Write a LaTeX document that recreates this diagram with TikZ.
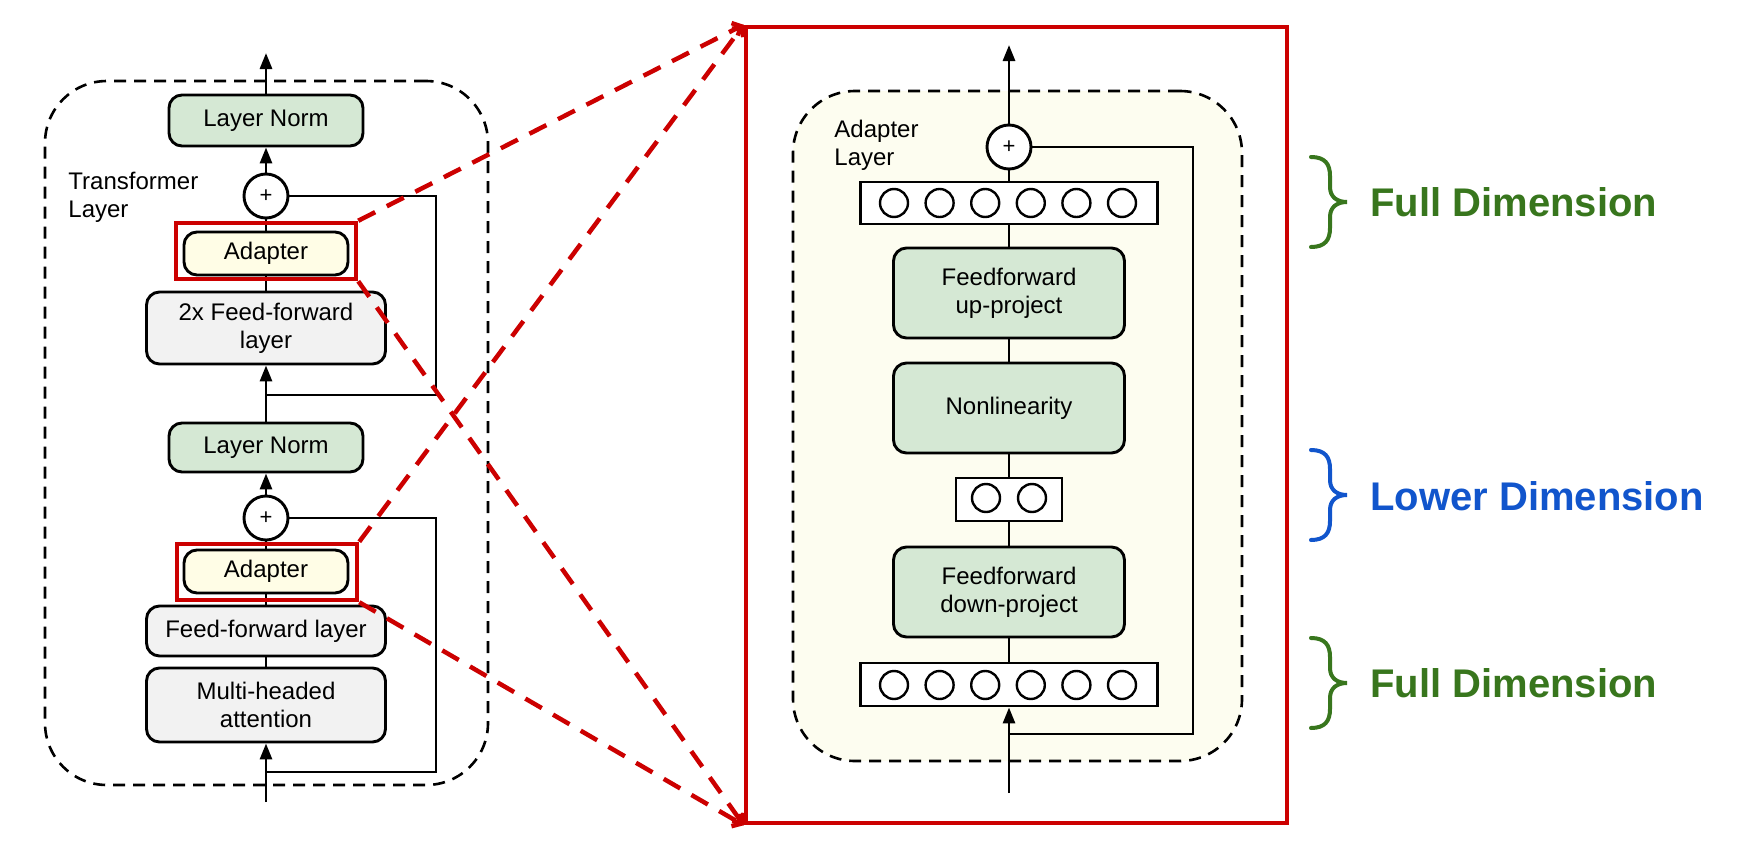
\documentclass[tikz,border=0pt]{standalone}
\usepackage{fontspec}
\setmainfont{Liberation Sans}
\usetikzlibrary{arrows.meta}
\definecolor{boxgreen}{HTML}{D5E8D4}
\definecolor{boxgrey}{HTML}{F2F2F2}
\definecolor{adyellow}{HTML}{FFFDE6}
\definecolor{bgcream}{HTML}{FDFDF0}
\definecolor{zred}{HTML}{CC0000}
\definecolor{dimgreen}{HTML}{38761D}
\definecolor{dimblue}{HTML}{1155CC}
\newcommand\dimbrace[3]{%
  \draw[line width=4pt, line cap=round, #3]
    (#1,#2-45) .. controls (#1+14,#2-45) and (#1+19,#2-38) .. (#1+19,#2-26)
    -- (#1+19,#2-15) .. controls (#1+19,#2-5) and (#1+26,#2) .. (#1+36,#2)
    .. controls (#1+26,#2) and (#1+19,#2+5) .. (#1+19,#2+15)
    -- (#1+19,#2+26) .. controls (#1+19,#2+38) and (#1+14,#2+45) .. (#1,#2+45);}
\begin{document}
\begin{tikzpicture}[x=1pt,y=-1pt,
  line width=2.9pt,
  every node/.style={font=\fontsize{24}{28}\selectfont, inner sep=0pt},
  blk/.style={draw, rounded corners=13pt, align=center, line width=2.9pt},
  greenbox/.style={blk, fill=boxgreen},
  greybox/.style={blk, fill=boxgrey},
  adbox/.style={blk, fill=adyellow},
  plusnode/.style={draw, circle, fill=white, minimum size=44pt, font=\fontsize{22}{22}\selectfont},
  neuron/.style={draw, circle, minimum size=28pt, line width=2.4pt},
  neurbar/.style={draw, fill=white, line width=2.9pt},
  region/.style={draw, dash pattern=on 12pt off 8pt, rounded corners=62pt, line width=2.6pt},
  redframe/.style={draw=zred, line width=4.5pt},
  zoomline/.style={draw=zred, line width=4.5pt, dash pattern=on 19pt off 13pt, -{Straight Barb[length=7pt,width=14pt]}},
  arr/.style={-{Triangle[length=16pt,width=12pt]}},
  dimlabel/.style={font=\fontsize{40}{40}\selectfont\bfseries, anchor=base west},
]
\useasboundingbox (0,0) rectangle (1742,862);
\fill[white] (0,0) rectangle (1742,862);

% ---------------- left: transformer layer ----------------
\node[region, minimum width=443pt, minimum height=704pt] (trreg) at (266.5,433) {};
\node[anchor=north west, align=left] (trlab) at (67,171) {Transformer\\Layer};

\node[greenbox, minimum width=194pt, minimum height=51pt] (ln1) at (266,120.5) {Layer Norm};
\node[plusnode] (plus1) at (266,196) {+};
\node[adbox, minimum width=164pt, minimum height=43pt] (ad1) at (266,253.5) {Adapter};
\node[greybox, minimum width=239pt, minimum height=72pt] (ff2) at (266,328) {2x Feed-forward\\layer};
\node[greenbox, minimum width=194pt, minimum height=49pt] (ln2) at (266,447.5) {Layer Norm};
\node[plusnode] (plus2) at (266,518) {+};
\node[adbox, minimum width=164pt, minimum height=43pt] (ad2) at (266,571.5) {Adapter};
\node[greybox, minimum width=239pt, minimum height=50pt] (ff1) at (266,631) {Feed-forward layer};
\node[greybox, minimum width=239pt, minimum height=74pt] (mha) at (266,705) {Multi-headed\\attention};

\coordinate (outL) at (266,53);
\coordinate (inL) at (266,802);
\coordinate (sk1a) at (436,395);
\coordinate (sk1b) at (266,395);
\coordinate (sk2a) at (436,772);
\coordinate (sk2b) at (266,772);

\draw[arr] (ln1.north) -- (outL);
\draw[arr] (plus1.north) -- (ln1.south);
\draw (plus1.south) -- (ad1.north);
\draw (ad1.south) -- (ff2.north);
\draw[arr] (ln2.north) -- (ff2.south);
\draw[arr] (plus2.north) -- (ln2.south);
\draw (plus2.south) -- (ad2.north);
\draw (ad2.south) -- (ff1.north);
\draw (ff1.south) -- (mha.north);
\draw[arr] (inL) -- (mha.south);
\draw (plus1.east) -| (sk1a) -- (sk1b);
\draw (plus2.east) -| (sk2a) -- (sk2b);

\node[redframe, minimum width=180pt, minimum height=56pt] (r1) at (266,251) {};
\node[redframe, minimum width=180pt, minimum height=56pt] (r2) at (267,572) {};

% ---------------- right: adapter layer ----------------
\node[region, fill=bgcream, minimum width=449pt, minimum height=670pt] (adreg) at (1017.5,426) {};
\node[anchor=north west, align=left] (adlab) at (833,119) {Adapter\\Layer};

\node[plusnode] (plusR) at (1009,147) {+};
\node[neurbar, minimum width=297pt, minimum height=42pt] (nTop) at (1009,203) {};
\foreach \i/\xx in {1/894,2/939.6,3/985.2,4/1030.8,5/1076.4,6/1122}
  \node[neuron] (nt\i) at (\xx,203) {};
\node[greenbox, minimum width=231pt, minimum height=90pt] (ffup) at (1009,293) {Feedforward\\up-project};
\node[greenbox, minimum width=231pt, minimum height=90pt] (nonlin) at (1009,408) {Nonlinearity};
\node[neurbar, minimum width=106pt, minimum height=43pt] (nSm) at (1009,499.5) {};
\node[neuron] (ns1) at (986,498) {};
\node[neuron] (ns2) at (1032,498) {};
\node[greenbox, minimum width=231pt, minimum height=90pt] (ffdown) at (1009,592) {Feedforward\\down-project};
\node[neurbar, minimum width=297pt, minimum height=43pt] (nBot) at (1009,684.5) {};
\foreach \i/\xx in {1/894,2/939.6,3/985.2,4/1030.8,5/1076.4,6/1122}
  \node[neuron] (nb\i) at (\xx,685) {};

\coordinate (outR) at (1009,45);
\coordinate (inR) at (1009,793);
\coordinate (skRa) at (1193,734);
\coordinate (skRb) at (1009,734);

\draw[arr] (plusR.north) -- (outR);
\draw (plusR.south) -- (nTop.north);
\draw (nTop.south) -- (ffup.north);
\draw (ffup.south) -- (nonlin.north);
\draw (nonlin.south) -- (nSm.north);
\draw (nSm.south) -- (ffdown.north);
\draw (ffdown.south) -- (nBot.north);
\draw[arr] (inR) -- (nBot.south);
\draw (plusR.east) -| (skRa) -- (skRb);

\node[redframe, minimum width=541pt, minimum height=796pt] (zoomR) at (1016.5,425) {};

% ---------------- zoom connectors ----------------
\draw[zoomline] (r1.north east) -- (zoomR.north west);
\draw[zoomline] (r1.south east) -- (zoomR.south west);
\draw[zoomline] (r2.north east) -- (zoomR.north west);
\draw[zoomline] (r2.south east) -- (zoomR.south west);

% ---------------- dimension labels ----------------
\dimbrace{1311}{202}{dimgreen}
\node[dimlabel, text=dimgreen] (fd1) at (1369,216) {Full Dimension};
\dimbrace{1311}{495}{dimblue}
\node[dimlabel, text=dimblue] (ld) at (1369,510) {Lower Dimension};
\dimbrace{1311}{683}{dimgreen}
\node[dimlabel, text=dimgreen] (fd2) at (1369,697) {Full Dimension};
\end{tikzpicture}
\end{document}
